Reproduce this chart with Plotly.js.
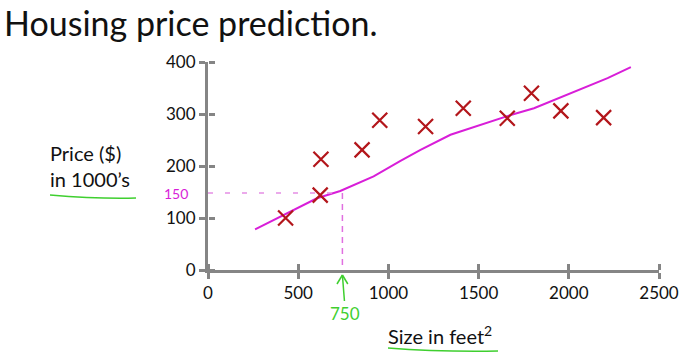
<!DOCTYPE html>
<html><head><meta charset="utf-8">
<script src="https://cdn.plot.ly/plotly-3.0.1.min.js"></script>
<style>html,body{margin:0;padding:0;background:#fff;}#chart{width:685px;height:357px;}</style>
</head><body><div id="chart"></div>
<script>
// Training data: size (feet^2) vs price ($1000s)
const sizes  = [430, 622, 626, 854, 952, 1206, 1415, 1659, 1793, 1956, 2193];
const prices = [100, 144, 213, 231, 288, 276, 311, 292, 340, 306, 293];
// Hand-drawn fit line
const fitX = [261, 437, 604, 733, 918, 1067, 1178, 1344, 1530, 1678, 1807, 1956, 2030, 2215, 2344];
const fitY = [78, 109, 138, 152, 180, 210, 231, 260, 282, 298, 311, 332, 343, 369, 390];
// Prediction read-off
const predictX = [745];
const predictY = [148];
const xTicks = [0, 500, 1000, 1500, 2000, 2500];
const yTicks = [0, 100, 200, 300, 400];

const FONT = 'Lato, "Open Sans", sans-serif';
const axisGray = '#858585';
const magenta = '#d81ed8';
const green = '#3fcf2f';

const traces = [
  {x: fitX, y: fitY, mode: 'lines', line: {color: magenta, width: 2}, hoverinfo: 'skip', showlegend: false},
  {x: [0, predictX[0]], y: [predictY[0], predictY[0]], xaxis: 'x2', yaxis: 'y2', mode: 'lines',
   line: {color: '#e58ee5', width: 1.5, dash: '5px,12px'}, showlegend: false},
  {x: [predictX[0], predictX[0]], y: [predictY[0], 0], xaxis: 'x2', yaxis: 'y2', mode: 'lines',
   line: {color: '#e070e0', width: 1.5, dash: '6px,5px'}, showlegend: false},
  {x: sizes, y: prices, mode: 'markers', marker: {symbol: 'x-thin', size: 15, line: {color: '#b3161b', width: 2.2}}, showlegend: false}
];

const baseAxis = {
  showgrid: false, zeroline: false, showline: true, linecolor: axisGray, linewidth: 3,
  ticks: 'outside', ticklen: 6, tickwidth: 3, tickcolor: axisGray,
  tickfont: {family: FONT, size: 17, color: '#111'}, fixedrange: true
};

const layout = {
  width: 685, height: 357,
  margin: {l: 208, r: 26, t: 62, b: 87},
  paper_bgcolor: '#fff', plot_bgcolor: '#fff',
  xaxis: Object.assign({}, baseAxis, {range: [0, 2500], tickvals: xTicks, ticktext: xTicks.map(String)}),
  yaxis: Object.assign({}, baseAxis, {range: [0, 400], tickvals: yTicks, ticktext: yTicks.map(String)}),
  // mirror axes that draw the inner half of each tick
  xaxis2: {overlaying: 'x', anchor: 'free', position: 0, side: 'top', range: [0, 2500], showgrid: false, zeroline: false, showline: false,
    ticks: 'outside', ticklen: 6, tickwidth: 3, tickcolor: axisGray, tickvals: xTicks, showticklabels: false, fixedrange: true},
  yaxis2: {overlaying: 'y', anchor: 'free', position: 0, side: 'right', range: [0, 400], showgrid: false, zeroline: false, showline: false,
    ticks: 'outside', ticklen: 6, tickwidth: 3, tickcolor: axisGray, tickvals: yTicks, showticklabels: false, fixedrange: true},
  annotations: [
    {text: 'Housing price prediction.', xref: 'paper', yref: 'paper', x: -206/451, y: 1 + 40/208,
     xanchor: 'left', yanchor: 'middle', showarrow: false, font: {family: FONT, size: 34, color: '#111'}},
    {text: 'Price ($)<br>in 1000’s', xref: 'paper', yref: 'paper', x: -160/451, y: (270-166)/208,
     xanchor: 'left', yanchor: 'middle', align: 'left', showarrow: false, font: {family: FONT, size: 20, color: '#111'}},
    {text: 'Size in feet<sup>2</sup>', xref: 'paper', yref: 'paper', x: (386-208)/451, y: -(335-270)/208,
     xanchor: 'left', yanchor: 'middle', showarrow: false, font: {family: FONT, size: 20, color: '#111'}},
    {text: '150', xref: 'paper', yref: 'y', x: -(208-176)/451, y: predictY[0],
     xanchor: 'center', yanchor: 'middle', showarrow: false, font: {family: FONT, size: 14, color: magenta}},
    {text: '750', xref: 'x', yref: 'paper', x: predictX[0], y: -(275-270)/208,
     showarrow: true, arrowhead: 0, arrowwidth: 1.5, arrowcolor: green, ax: 3, ay: 38,
     font: {family: FONT, size: 17, color: green}}
  ],
  shapes: [
    {type: 'path', xref: 'paper', yref: 'paper',
     path: `M ${-158/451} ${(270-195)/208} Q ${-110/451} ${(270-199)/208} ${-72/451} ${(270-198)/208}`,
     line: {color: green, width: 1.5}},
    {type: 'path', xref: 'paper', yref: 'paper',
     path: `M ${(388-208)/451} ${-(348-270)/208} Q ${(440-208)/451} ${-(352-270)/208} ${(498-208)/451} ${-(351-270)/208}`,
     line: {color: green, width: 1.5}},
    {type: 'line', xref: 'x', yref: 'paper', x0: predictX[0] - 30, x1: predictX[0], y0: -(284-270)/208, y1: -(275-270)/208,
     line: {color: green, width: 1.5}},
    {type: 'line', xref: 'x', yref: 'paper', x0: predictX[0] + 30, x1: predictX[0], y0: -(284-270)/208, y1: -(275-270)/208,
     line: {color: green, width: 1.5}}
  ]
};

Plotly.newPlot('chart', traces, layout, {displayModeBar: false, staticPlot: true});
</script></body></html>
